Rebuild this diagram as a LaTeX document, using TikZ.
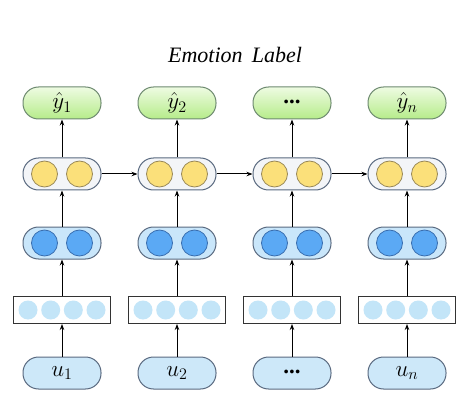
\documentclass[tikz,border=0pt]{standalone}
\usepackage{fix-cm}
\usepackage{fontspec}
\setmainfont{Liberation Serif}
\usetikzlibrary{arrows.meta}
\definecolor{pillborder}{HTML}{5A6A80}
\definecolor{greentop}{HTML}{EEFBE2}
\definecolor{greenbot}{HTML}{B6EC8A}
\definecolor{greenborder}{HTML}{6E8A70}
\definecolor{yelfill}{HTML}{FBE07A}
\definecolor{yelborder}{HTML}{9A8A5A}
\definecolor{graypill}{HTML}{F3F5F8}
\definecolor{bluepill}{HTML}{C9E6FA}
\definecolor{bluecirc}{HTML}{5BA9F4}
\definecolor{bluecircb}{HTML}{3A6FB0}
\definecolor{lightcirc}{HTML}{C3E5F8}
\definecolor{inpill}{HTML}{CDE8F9}
\tikzset{
  pill/.style={draw=pillborder, line width=1pt, rounded corners=15.5pt,
    minimum width=78pt, minimum height=32pt, inner sep=0pt},
  outpill/.style={pill, draw=greenborder, top color=greentop, bottom color=greenbot},
  yelpill/.style={pill, fill=graypill},
  blupill/.style={pill, fill=bluepill},
  inppill/.style={pill, fill=inpill},
  yelcirc/.style={circle, draw=yelborder, line width=0.8pt, fill=yelfill, minimum size=26pt, inner sep=0pt},
  blucirc/.style={circle, draw=bluecircb, line width=0.8pt, fill=bluecirc, minimum size=26pt, inner sep=0pt},
  vecbox/.style={draw=black!80, line width=1pt, fill=white, minimum width=97pt, minimum height=27pt, inner sep=0pt},
  veccirc/.style={circle, fill=lightcirc, minimum size=19pt, inner sep=0pt},
  conn/.style={-{Stealth[length=6pt,width=4.5pt]}, line width=1pt, black},
  lbl/.style={font=\fontsize{23}{26}\selectfont},
}
\begin{document}
\begin{tikzpicture}[x=1pt,y=1pt]
\useasboundingbox (0,0) rectangle (474,413);
\fill[white] (0,0) rectangle (474,413);
\node[font=\fontsize{22}{25}\selectfont\itshape] (title) at (235,358) {Emotion\, Label};
\foreach \i/\x/\ol/\il in {1/62/{$\hat{y}_1$}/{$u_1$},2/177/{$\hat{y}_2$}/{$u_2$},3/292/{\raisebox{3pt}{\textbf{...}}}/{\raisebox{3pt}{\textbf{...}}},4/407/{$\hat{y}_n$}/{$u_n$}}{
  \node[outpill, lbl] (o\i) at (\x,310) {\ol};
  \node[yelpill] (y\i) at (\x,239) {};
  \node[yelcirc] (y\i a) at (\x-17.5,239) {};
  \node[yelcirc] (y\i b) at (\x+17.5,239) {};
  \node[blupill] (b\i) at (\x,170) {};
  \node[blucirc] (b\i a) at (\x-17.5,170) {};
  \node[blucirc] (b\i b) at (\x+17.5,170) {};
  \node[vecbox] (r\i) at (\x,103) {};
  \node[veccirc] (r\i a) at (\x-34,103) {};
  \node[veccirc] (r\i b) at (\x-11.3,103) {};
  \node[veccirc] (r\i c) at (\x+11.3,103) {};
  \node[veccirc] (r\i d) at (\x+34,103) {};
  \node[inppill, lbl] (u\i) at (\x,40) {\il};
  \draw[conn] (u\i) -- (r\i);
  \draw[conn] (r\i) -- (b\i);
  \draw[conn] (b\i) -- (y\i);
  \draw[conn] (y\i) -- (o\i);
}
\draw[conn] (y1) -- (y2);
\draw[conn] (y2) -- (y3);
\draw[conn] (y3) -- (y4);
\end{tikzpicture}
\end{document}
